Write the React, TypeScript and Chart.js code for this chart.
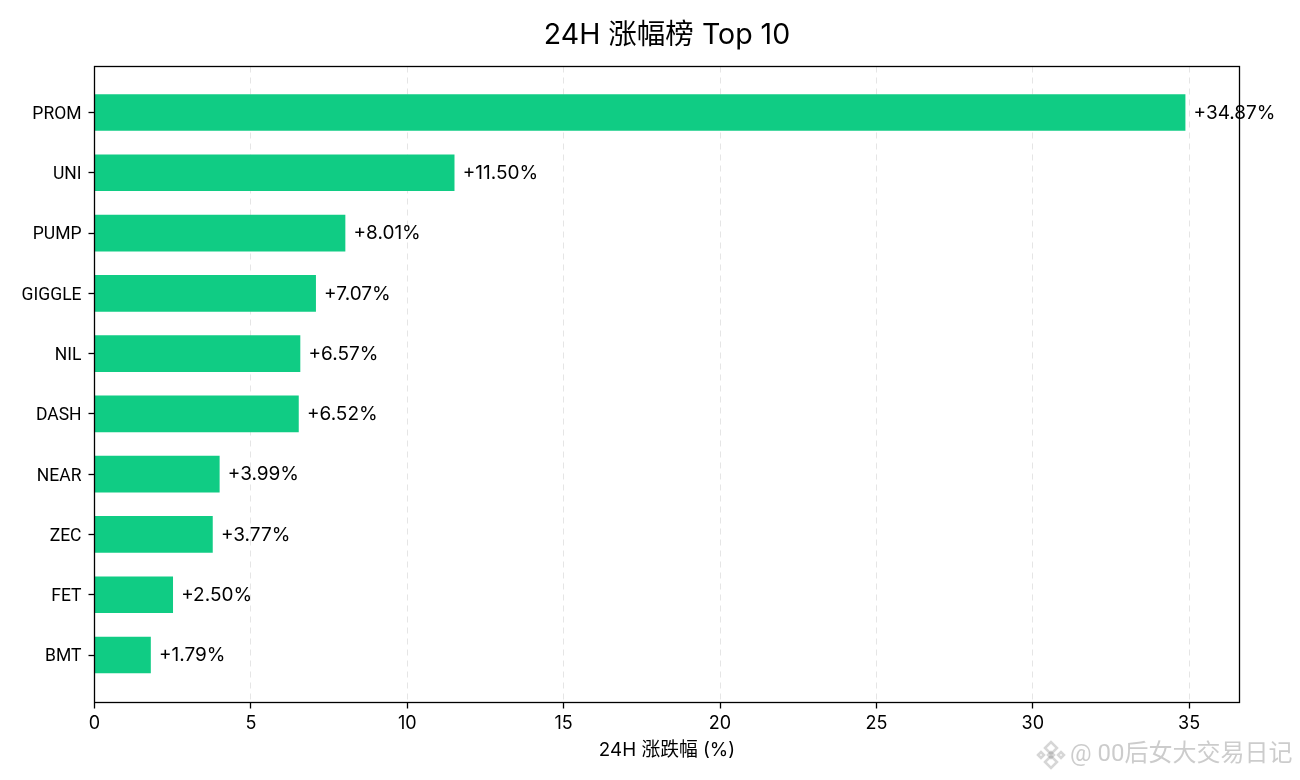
import React, { useEffect, useRef } from "react";
import { Chart, registerables } from "chart.js";

Chart.register(...registerables);

const categories = ["PROM", "UNI", "PUMP", "GIGGLE", "NIL", "DASH", "NEAR", "ZEC", "FET", "BMT"];
const gains = [34.87, 11.5, 8.01, 7.07, 6.57, 6.52, 3.99, 3.77, 2.5, 1.79];
const xTicks = [0, 5, 10, 15, 20, 25, 30, 35];
const chartTitle = "24H 涨幅榜 Top 10";
const xTitle = "24H 涨跌幅 (%)";
const watermark = "@ 00后女大交易日记";

const LATIN = 'Inter, "Noto Sans CJK SC", sans-serif';
const NARROW = 'Roboto, "Noto Sans CJK SC", sans-serif';

const framePlugin = {
  id: "frameAndLabels",
  afterDatasetsDraw(chart: any) {
    const { ctx, chartArea: a } = chart;
    ctx.save();
    ctx.fillStyle = "#000";
    ctx.font = `19px ${LATIN}`;
    ctx.textAlign = "left";
    ctx.textBaseline = "middle";
    chart.getDatasetMeta(0).data.forEach((bar: any, i: number) => {
      ctx.fillText(`+${gains[i].toFixed(2)}%`, bar.x + 8.5, bar.y + 0.5);
    });
    ctx.strokeStyle = "#000";
    ctx.lineWidth = 1.3;
    ctx.strokeRect(a.left, a.top, a.right - a.left, a.bottom - a.top);
    // watermark
    ctx.fillStyle = "rgba(120,120,120,0.38)";
    ctx.font = `24px ${NARROW}`;
    ctx.fillText(watermark, 1070, 755);
    ctx.strokeStyle = "rgba(120,120,120,0.3)";
    ctx.lineWidth = 2.5;
    const cx = 1051, cy = 755;
    [[0, -7, 6], [-10, 0, 3], [10, 0, 3], [0, 7, 6], [0, 0, 3]].forEach(([dx, dy, r]) => {
      ctx.beginPath();
      ctx.moveTo(cx + dx - r, cy + dy);
      ctx.lineTo(cx + dx, cy + dy - r);
      ctx.lineTo(cx + dx + r, cy + dy);
      ctx.lineTo(cx + dx, cy + dy + r);
      ctx.closePath();
      ctx.stroke();
    });
    ctx.restore();
  },
};

export default function App() {
  const ref = useRef<HTMLCanvasElement>(null);
  useEffect(() => {
    const chart = new Chart(ref.current as HTMLCanvasElement, {
      type: "bar",
      data: {
        datasets: [
          {
            label: "24H",
            data: gains.map((v, i) => ({ x: v, y: i })),
            backgroundColor: "#10CC84",
            barThickness: 36,
          },
        ],
      },
      options: {
        indexAxis: "y",
        responsive: false,
        animation: false,
        devicePixelRatio: 1,
        layout: { padding: { left: 0, right: 60.5, top: 0, bottom: 0 } },
        plugins: {
          legend: { display: false },
          tooltip: { enabled: false },
          title: {
            display: true,
            text: chartTitle,
            fullSize: false,
            color: "#000",
            font: { family: LATIN, size: 28.5, weight: "normal", lineHeight: 1.2 },
            padding: { top: 18.5, bottom: 13.8 },
          },
        },
        scales: {
          x: {
            type: "linear",
            min: 0,
            max: 36.61,
            afterBuildTicks: (s: any) => {
              s.ticks = xTicks.map((value) => ({ value }));
            },
            afterFit: (s: any) => {
              s.height = 77.5;
            },
            grid: {
              color: "rgba(0,0,0,0.10)",
              lineWidth: 1,
              tickColor: "#000",
              tickLength: 6,
              tickWidth: 1.3,
              tickBorderDash: [],
            },
            border: { display: false, dash: [6, 5] },
            ticks: { color: "#000", font: { family: LATIN, size: 18 }, padding: 4, maxRotation: 0 },
            title: {
              display: true,
              text: xTitle,
              color: "#000",
              font: { family: LATIN, size: 18.8 },
              padding: { top: 0, bottom: 18.5 },
            },
          },
          y: {
            type: "linear",
            reverse: true,
            offset: false,
            min: -0.763,
            max: 9.788,
            afterBuildTicks: (s: any) => {
              s.ticks = categories.map((_, value) => ({ value }));
            },
            afterFit: (s: any) => {
              s.width = 94.5;
            },
            grid: {
              offset: false,
              drawOnChartArea: false,
              tickColor: "#000",
              tickLength: 6,
              tickWidth: 1.3,
            },
            border: { display: false },
            ticks: {
              color: "#000",
              font: { family: NARROW, size: 17.5 },
              padding: 7,
              labelOffset: 2,
              autoSkip: false,
              callback: (v: any) => categories[v as number],
            },
          },
        },
      } as any,
      plugins: [framePlugin],
    });
    return () => chart.destroy();
  }, []);
  return (
    <div style={{ position: "fixed", left: 0, top: 0, width: 1300, height: 780, background: "#fff" }}>
      <canvas ref={ref} width={1300} height={780} style={{ display: "block" }} />
    </div>
  );
}
